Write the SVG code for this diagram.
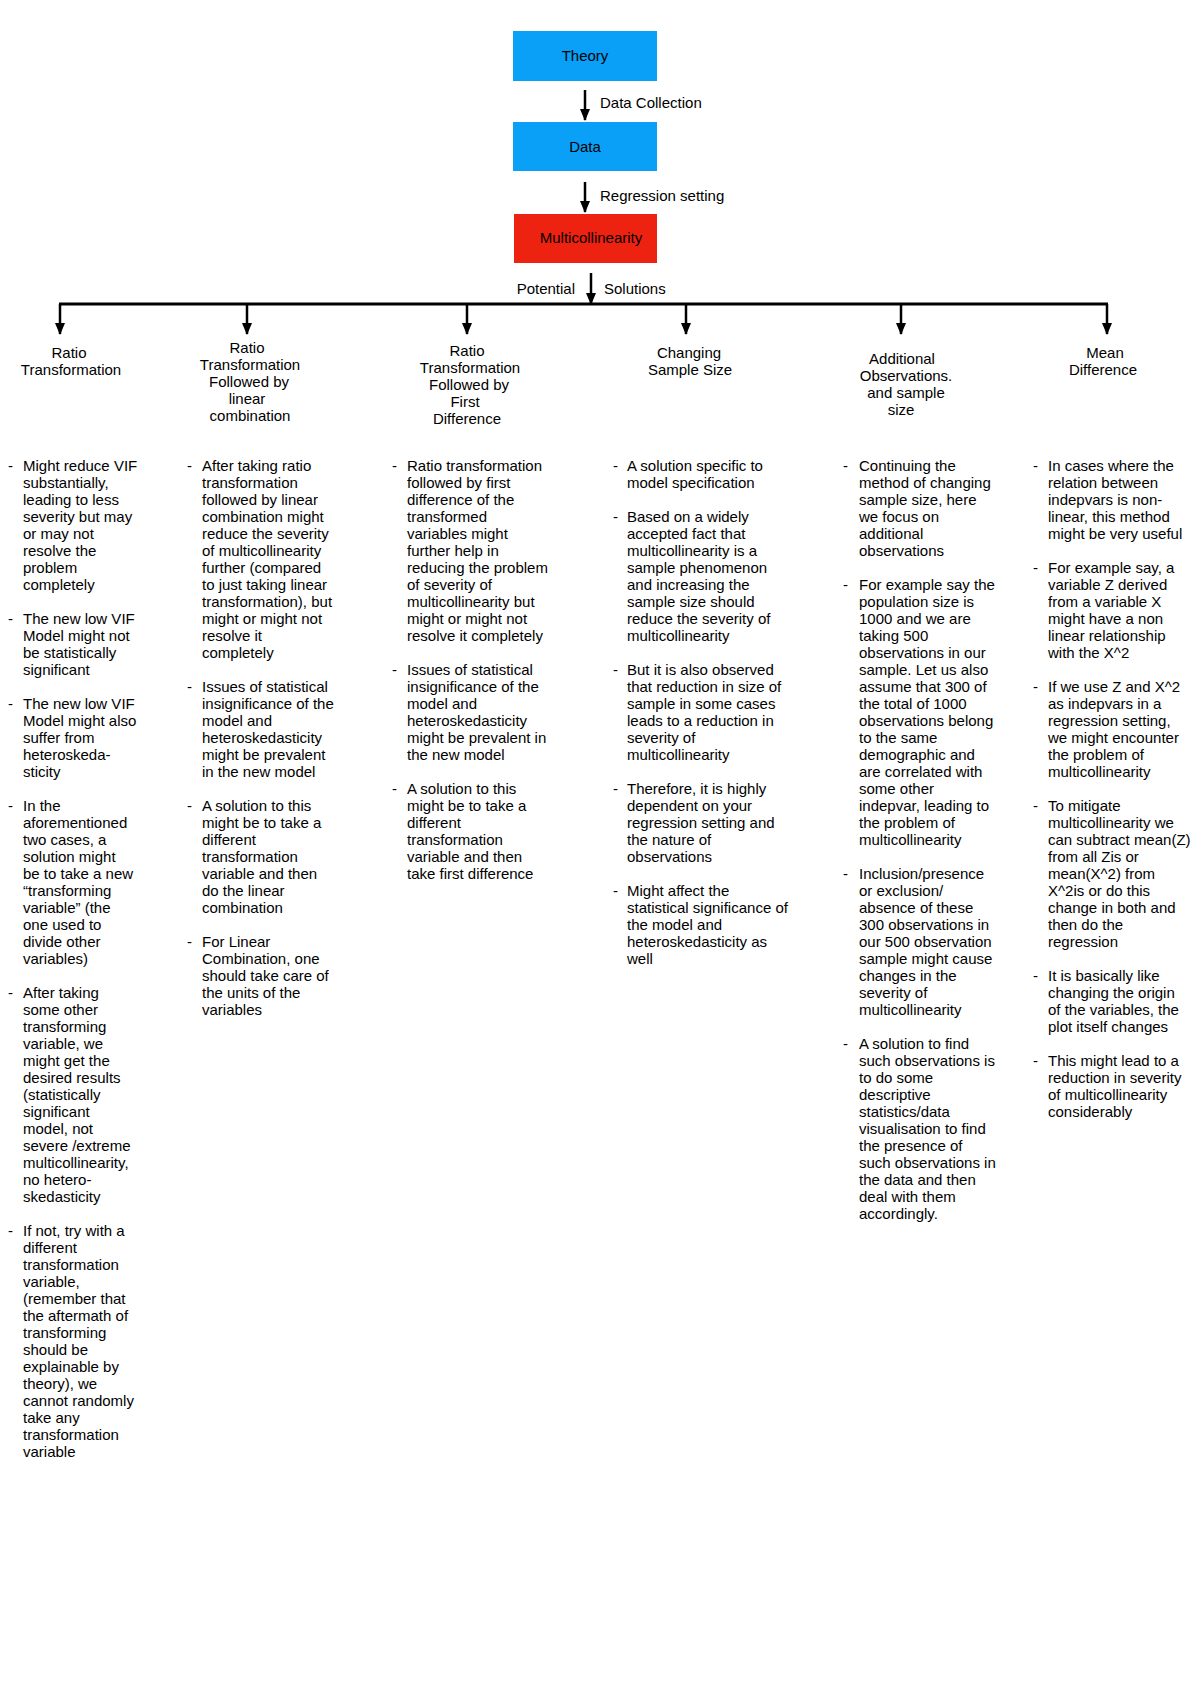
<svg xmlns="http://www.w3.org/2000/svg" width="1200" height="1697" viewBox="0 0 1200 1697">
<style>
text{font-family:"Liberation Sans",Arial,sans-serif;font-size:15px;fill:#000}
.c{text-anchor:middle}
.ln{stroke:#000;stroke-width:2.5;fill:none}
</style>
<defs><marker id="ah" markerWidth="10" markerHeight="12" refX="5" refY="11" orient="auto" markerUnits="userSpaceOnUse" viewBox="0 0 10 12"><path d="M0,0 L10,0 L5,12 Z" fill="#000" transform="rotate(-90 5 6)"/></marker>
<marker id="a2" markerWidth="12" markerHeight="10" refX="11" refY="5" orient="auto" markerUnits="userSpaceOnUse"><path d="M0,0 L12,5 L0,10 Z" fill="#000"/></marker></defs>
<rect width="1200" height="1697" fill="#fff"/>
<g id="theory"><rect x="513" y="31" width="144" height="50" fill="#0aa0f8"/><text class="c" x="585" y="61">Theory</text></g>
<g id="data"><rect x="513" y="122" width="144" height="49" fill="#0aa0f8"/><text class="c" x="585" y="152">Data</text></g>
<g id="multi"><rect x="514" y="214" width="143" height="49" fill="#ee2210"/><text class="c" x="591" y="243">Multicollinearity</text></g>
<g id="connectors">
<line class="ln" x1="585" y1="90" x2="585" y2="120" marker-end="url(#a2)"/>
<line class="ln" x1="585" y1="182" x2="585" y2="212" marker-end="url(#a2)"/>
<line class="ln" x1="591" y1="273" x2="591" y2="304" marker-end="url(#a2)"/>
<line x1="59" y1="304" x2="1108" y2="304" stroke="#000" stroke-width="3"/>
<line class="ln" x1="60" y1="304" x2="60" y2="334" marker-end="url(#a2)"/>
<line class="ln" x1="247" y1="304" x2="247" y2="334" marker-end="url(#a2)"/>
<line class="ln" x1="467" y1="304" x2="467" y2="334" marker-end="url(#a2)"/>
<line class="ln" x1="686" y1="304" x2="686" y2="334" marker-end="url(#a2)"/>
<line class="ln" x1="901" y1="304" x2="901" y2="334" marker-end="url(#a2)"/>
<line class="ln" x1="1107" y1="304" x2="1107" y2="334" marker-end="url(#a2)"/>
<text x="600" y="108">Data Collection</text>
<text x="600" y="201">Regression setting</text>
<text x="575" y="294" text-anchor="end">Potential</text>
<text x="604" y="294">Solutions</text>
</g>
<g id="h1"><text class="c" y="358"><tspan x="69">Ratio</tspan><tspan x="71" dy="17">Transformation</tspan></text></g>
<g id="h2"><text class="c" y="353"><tspan x="247">Ratio</tspan><tspan x="250" dy="17">Transformation</tspan><tspan x="249" dy="17">Followed by</tspan><tspan x="247" dy="17">linear</tspan><tspan x="250" dy="17">combination</tspan></text></g>
<g id="h3"><text class="c" y="356"><tspan x="467">Ratio</tspan><tspan x="470" dy="17">Transformation</tspan><tspan x="469" dy="17">Followed by</tspan><tspan x="465" dy="17">First</tspan><tspan x="467" dy="17">Difference</tspan></text></g>
<g id="h4"><text class="c" y="358"><tspan x="689">Changing</tspan><tspan x="690" dy="17">Sample Size</tspan></text></g>
<g id="h5"><text class="c" y="364"><tspan x="902">Additional</tspan><tspan x="906" dy="17">Observations.</tspan><tspan x="906" dy="17">and sample</tspan><tspan x="901" dy="17">size</tspan></text></g>
<g id="h6"><text class="c" y="358"><tspan x="1105">Mean</tspan><tspan x="1103" dy="17">Difference</tspan></text></g>
<g id="col1"><text y="471">
<tspan x="8">-</tspan><tspan x="23">Might reduce VIF</tspan><tspan x="23" dy="17">substantially,</tspan><tspan x="23" dy="17">leading to less</tspan><tspan x="23" dy="17">severity but may</tspan><tspan x="23" dy="17">or may not</tspan><tspan x="23" dy="17">resolve the</tspan><tspan x="23" dy="17">problem</tspan><tspan x="23" dy="17">completely</tspan>
<tspan x="8" dy="34">-</tspan><tspan x="23">The new low VIF</tspan><tspan x="23" dy="17">Model might not</tspan><tspan x="23" dy="17">be statistically</tspan><tspan x="23" dy="17">significant</tspan>
<tspan x="8" dy="34">-</tspan><tspan x="23">The new low VIF</tspan><tspan x="23" dy="17">Model might also</tspan><tspan x="23" dy="17">suffer from</tspan><tspan x="23" dy="17">heteroskeda-</tspan><tspan x="23" dy="17">sticity</tspan>
<tspan x="8" dy="34">-</tspan><tspan x="23">In the</tspan><tspan x="23" dy="17">aforementioned</tspan><tspan x="23" dy="17">two cases, a</tspan><tspan x="23" dy="17">solution might</tspan><tspan x="23" dy="17">be to take a new</tspan><tspan x="23" dy="17">“transforming</tspan><tspan x="23" dy="17">variable” (the</tspan><tspan x="23" dy="17">one used to</tspan><tspan x="23" dy="17">divide other</tspan><tspan x="23" dy="17">variables)</tspan>
<tspan x="8" dy="34">-</tspan><tspan x="23">After taking</tspan><tspan x="23" dy="17">some other</tspan><tspan x="23" dy="17">transforming</tspan><tspan x="23" dy="17">variable, we</tspan><tspan x="23" dy="17">might get the</tspan><tspan x="23" dy="17">desired results</tspan><tspan x="23" dy="17">(statistically</tspan><tspan x="23" dy="17">significant</tspan><tspan x="23" dy="17">model, not</tspan><tspan x="23" dy="17">severe /extreme</tspan><tspan x="23" dy="17">multicollinearity,</tspan><tspan x="23" dy="17">no hetero-</tspan><tspan x="23" dy="17">skedasticity</tspan>
<tspan x="8" dy="34">-</tspan><tspan x="23">If not, try with a</tspan><tspan x="23" dy="17">different</tspan><tspan x="23" dy="17">transformation</tspan><tspan x="23" dy="17">variable,</tspan><tspan x="23" dy="17">(remember that</tspan><tspan x="23" dy="17">the aftermath of</tspan><tspan x="23" dy="17">transforming</tspan><tspan x="23" dy="17">should be</tspan><tspan x="23" dy="17">explainable by</tspan><tspan x="23" dy="17">theory), we</tspan><tspan x="23" dy="17">cannot randomly</tspan><tspan x="23" dy="17">take any</tspan><tspan x="23" dy="17">transformation</tspan><tspan x="23" dy="17">variable</tspan>
</text></g>
<g id="col2"><text y="471">
<tspan x="187">-</tspan><tspan x="202">After taking ratio</tspan><tspan x="202" dy="17">transformation</tspan><tspan x="202" dy="17">followed by linear</tspan><tspan x="202" dy="17">combination might</tspan><tspan x="202" dy="17">reduce the severity</tspan><tspan x="202" dy="17">of multicollinearity</tspan><tspan x="202" dy="17">further (compared</tspan><tspan x="202" dy="17">to just taking linear</tspan><tspan x="202" dy="17">transformation), but</tspan><tspan x="202" dy="17">might or might not</tspan><tspan x="202" dy="17">resolve it</tspan><tspan x="202" dy="17">completely</tspan>
<tspan x="187" dy="34">-</tspan><tspan x="202">Issues of statistical</tspan><tspan x="202" dy="17">insignificance of the</tspan><tspan x="202" dy="17">model and</tspan><tspan x="202" dy="17">heteroskedasticity</tspan><tspan x="202" dy="17">might be prevalent</tspan><tspan x="202" dy="17">in the new model</tspan>
<tspan x="187" dy="34">-</tspan><tspan x="202">A solution to this</tspan><tspan x="202" dy="17">might be to take a</tspan><tspan x="202" dy="17">different</tspan><tspan x="202" dy="17">transformation</tspan><tspan x="202" dy="17">variable and then</tspan><tspan x="202" dy="17">do the linear</tspan><tspan x="202" dy="17">combination</tspan>
<tspan x="187" dy="34">-</tspan><tspan x="202">For Linear</tspan><tspan x="202" dy="17">Combination, one</tspan><tspan x="202" dy="17">should take care of</tspan><tspan x="202" dy="17">the units of the</tspan><tspan x="202" dy="17">variables</tspan>
</text></g>
<g id="col3"><text y="471">
<tspan x="392">-</tspan><tspan x="407">Ratio transformation</tspan><tspan x="407" dy="17">followed by first</tspan><tspan x="407" dy="17">difference of the</tspan><tspan x="407" dy="17">transformed</tspan><tspan x="407" dy="17">variables might</tspan><tspan x="407" dy="17">further help in</tspan><tspan x="407" dy="17">reducing the problem</tspan><tspan x="407" dy="17">of severity of</tspan><tspan x="407" dy="17">multicollinearity but</tspan><tspan x="407" dy="17">might or might not</tspan><tspan x="407" dy="17">resolve it completely</tspan>
<tspan x="392" dy="34">-</tspan><tspan x="407">Issues of statistical</tspan><tspan x="407" dy="17">insignificance of the</tspan><tspan x="407" dy="17">model and</tspan><tspan x="407" dy="17">heteroskedasticity</tspan><tspan x="407" dy="17">might be prevalent in</tspan><tspan x="407" dy="17">the new model</tspan>
<tspan x="392" dy="34">-</tspan><tspan x="407">A solution to this</tspan><tspan x="407" dy="17">might be to take a</tspan><tspan x="407" dy="17">different</tspan><tspan x="407" dy="17">transformation</tspan><tspan x="407" dy="17">variable and then</tspan><tspan x="407" dy="17">take first difference</tspan>
</text></g>
<g id="col4"><text y="471">
<tspan x="613">-</tspan><tspan x="627">A solution specific to</tspan><tspan x="627" dy="17">model specification</tspan>
<tspan x="613" dy="34">-</tspan><tspan x="627">Based on a widely</tspan><tspan x="627" dy="17">accepted fact that</tspan><tspan x="627" dy="17">multicollinearity is a</tspan><tspan x="627" dy="17">sample phenomenon</tspan><tspan x="627" dy="17">and increasing the</tspan><tspan x="627" dy="17">sample size should</tspan><tspan x="627" dy="17">reduce the severity of</tspan><tspan x="627" dy="17">multicollinearity</tspan>
<tspan x="613" dy="34">-</tspan><tspan x="627">But it is also observed</tspan><tspan x="627" dy="17">that reduction in size of</tspan><tspan x="627" dy="17">sample in some cases</tspan><tspan x="627" dy="17">leads to a reduction in</tspan><tspan x="627" dy="17">severity of</tspan><tspan x="627" dy="17">multicollinearity</tspan>
<tspan x="613" dy="34">-</tspan><tspan x="627">Therefore, it is highly</tspan><tspan x="627" dy="17">dependent on your</tspan><tspan x="627" dy="17">regression setting and</tspan><tspan x="627" dy="17">the nature of</tspan><tspan x="627" dy="17">observations</tspan>
<tspan x="613" dy="34">-</tspan><tspan x="627">Might affect the</tspan><tspan x="627" dy="17">statistical significance of</tspan><tspan x="627" dy="17">the model and</tspan><tspan x="627" dy="17">heteroskedasticity as</tspan><tspan x="627" dy="17">well</tspan>
</text></g>
<g id="col5"><text y="471">
<tspan x="843">-</tspan><tspan x="859">Continuing the</tspan><tspan x="859" dy="17">method of changing</tspan><tspan x="859" dy="17">sample size, here</tspan><tspan x="859" dy="17">we focus on</tspan><tspan x="859" dy="17">additional</tspan><tspan x="859" dy="17">observations</tspan>
<tspan x="843" dy="34">-</tspan><tspan x="859">For example say the</tspan><tspan x="859" dy="17">population size is</tspan><tspan x="859" dy="17">1000 and we are</tspan><tspan x="859" dy="17">taking 500</tspan><tspan x="859" dy="17">observations in our</tspan><tspan x="859" dy="17">sample. Let us also</tspan><tspan x="859" dy="17">assume that 300 of</tspan><tspan x="859" dy="17">the total of 1000</tspan><tspan x="859" dy="17">observations belong</tspan><tspan x="859" dy="17">to the same</tspan><tspan x="859" dy="17">demographic and</tspan><tspan x="859" dy="17">are correlated with</tspan><tspan x="859" dy="17">some other</tspan><tspan x="859" dy="17">indepvar, leading to</tspan><tspan x="859" dy="17">the problem of</tspan><tspan x="859" dy="17">multicollinearity</tspan>
<tspan x="843" dy="34">-</tspan><tspan x="859">Inclusion/presence</tspan><tspan x="859" dy="17">or exclusion/</tspan><tspan x="859" dy="17">absence of these</tspan><tspan x="859" dy="17">300 observations in</tspan><tspan x="859" dy="17">our 500 observation</tspan><tspan x="859" dy="17">sample might cause</tspan><tspan x="859" dy="17">changes in the</tspan><tspan x="859" dy="17">severity of</tspan><tspan x="859" dy="17">multicollinearity</tspan>
<tspan x="843" dy="34">-</tspan><tspan x="859">A solution to find</tspan><tspan x="859" dy="17">such observations is</tspan><tspan x="859" dy="17">to do some</tspan><tspan x="859" dy="17">descriptive</tspan><tspan x="859" dy="17">statistics/data</tspan><tspan x="859" dy="17">visualisation to find</tspan><tspan x="859" dy="17">the presence of</tspan><tspan x="859" dy="17">such observations in</tspan><tspan x="859" dy="17">the data and then</tspan><tspan x="859" dy="17">deal with them</tspan><tspan x="859" dy="17">accordingly.</tspan>
</text></g>
<g id="col6"><text y="471">
<tspan x="1033">-</tspan><tspan x="1048">In cases where the</tspan><tspan x="1048" dy="17">relation between</tspan><tspan x="1048" dy="17">indepvars is non-</tspan><tspan x="1048" dy="17">linear, this method</tspan><tspan x="1048" dy="17">might be very useful</tspan>
<tspan x="1033" dy="34">-</tspan><tspan x="1048">For example say, a</tspan><tspan x="1048" dy="17">variable Z derived</tspan><tspan x="1048" dy="17">from a variable X</tspan><tspan x="1048" dy="17">might have a non</tspan><tspan x="1048" dy="17">linear relationship</tspan><tspan x="1048" dy="17">with the X^2</tspan>
<tspan x="1033" dy="34">-</tspan><tspan x="1048">If we use Z and X^2</tspan><tspan x="1048" dy="17">as indepvars in a</tspan><tspan x="1048" dy="17">regression setting,</tspan><tspan x="1048" dy="17">we might encounter</tspan><tspan x="1048" dy="17">the problem of</tspan><tspan x="1048" dy="17">multicollinearity</tspan>
<tspan x="1033" dy="34">-</tspan><tspan x="1048">To mitigate</tspan><tspan x="1048" dy="17">multicollinearity we</tspan><tspan x="1048" dy="17">can subtract mean(Z)</tspan><tspan x="1048" dy="17">from all Zis or</tspan><tspan x="1048" dy="17">mean(X^2) from</tspan><tspan x="1048" dy="17">X^2is or do this</tspan><tspan x="1048" dy="17">change in both and</tspan><tspan x="1048" dy="17">then do the</tspan><tspan x="1048" dy="17">regression</tspan>
<tspan x="1033" dy="34">-</tspan><tspan x="1048">It is basically like</tspan><tspan x="1048" dy="17">changing the origin</tspan><tspan x="1048" dy="17">of the variables, the</tspan><tspan x="1048" dy="17">plot itself changes</tspan>
<tspan x="1033" dy="34">-</tspan><tspan x="1048">This might lead to a</tspan><tspan x="1048" dy="17">reduction in severity</tspan><tspan x="1048" dy="17">of multicollinearity</tspan><tspan x="1048" dy="17">considerably</tspan>
</text></g>
</svg>
